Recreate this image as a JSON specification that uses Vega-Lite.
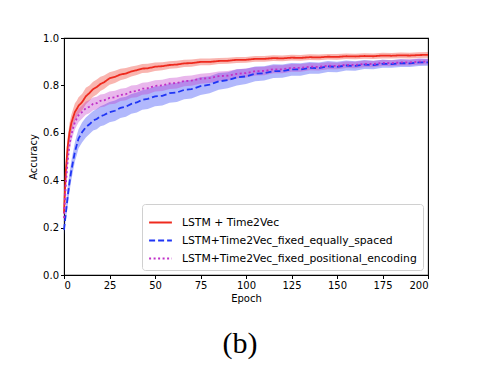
{
  "$schema": "https://vega.github.io/schema/vega-lite/v6.json",
  "width": 364,
  "height": 237,
  "autosize": {"type": "none"},
  "padding": {"left": 64, "top": 38, "right": 68, "bottom": 93},
  "background": "white",
  "title": {"text": "(b)", "orient": "bottom", "font": "Liberation Serif", "fontSize": 30, "fontWeight": "normal", "color": "black", "offset": 25, "dx": -6},
  "config": {
    "view": {"stroke": "black", "strokeWidth": 1.1},
    "axis": {"grid": false, "domainColor": "black", "tickColor": "black", "tickSize": 3.5, "labelColor": "black", "labelFont": "DejaVu Sans", "labelFontSize": 10, "titleFont": "DejaVu Sans", "titleFontSize": 10, "titleFontWeight": "normal", "titleColor": "black", "labelPadding": 2},
    "legend": {"labelFont": "DejaVu Sans", "labelFontSize": 10.8, "labelColor": "black", "labelLimit": 400}
  },
  "data": {"values": [
    {"epoch":0,"model":"LSTM + Time2Vec","acc":0.26,"lo":0.22,"hi":0.30},
    {"epoch":1,"model":"LSTM + Time2Vec","acc":0.44,"lo":0.40,"hi":0.48},
    {"epoch":2,"model":"LSTM + Time2Vec","acc":0.54,"lo":0.50,"hi":0.58},
    {"epoch":3,"model":"LSTM + Time2Vec","acc":0.60,"lo":0.56,"hi":0.64},
    {"epoch":4,"model":"LSTM + Time2Vec","acc":0.64,"lo":0.60,"hi":0.675},
    {"epoch":5,"model":"LSTM + Time2Vec","acc":0.665,"lo":0.63,"hi":0.70},
    {"epoch":6,"model":"LSTM + Time2Vec","acc":0.688,"lo":0.65,"hi":0.725},
    {"epoch":7,"model":"LSTM + Time2Vec","acc":0.70,"lo":0.665,"hi":0.735},
    {"epoch":8,"model":"LSTM + Time2Vec","acc":0.714,"lo":0.68,"hi":0.75},
    {"epoch":10,"model":"LSTM + Time2Vec","acc":0.73,"lo":0.695,"hi":0.765},
    {"epoch":12,"model":"LSTM + Time2Vec","acc":0.754,"lo":0.72,"hi":0.79},
    {"epoch":14,"model":"LSTM + Time2Vec","acc":0.768,"lo":0.735,"hi":0.80},
    {"epoch":16,"model":"LSTM + Time2Vec","acc":0.784,"lo":0.752,"hi":0.815},
    {"epoch":18,"model":"LSTM + Time2Vec","acc":0.793,"lo":0.762,"hi":0.825},
    {"epoch":20,"model":"LSTM + Time2Vec","acc":0.806,"lo":0.776,"hi":0.836},
    {"epoch":22,"model":"LSTM + Time2Vec","acc":0.813,"lo":0.785,"hi":0.842},
    {"epoch":25,"model":"LSTM + Time2Vec","acc":0.83,"lo":0.803,"hi":0.856},
    {"epoch":28,"model":"LSTM + Time2Vec","acc":0.836,"lo":0.81,"hi":0.862},
    {"epoch":31,"model":"LSTM + Time2Vec","acc":0.846,"lo":0.822,"hi":0.87},
    {"epoch":34,"model":"LSTM + Time2Vec","acc":0.85,"lo":0.828,"hi":0.873},
    {"epoch":37,"model":"LSTM + Time2Vec","acc":0.859,"lo":0.838,"hi":0.88},
    {"epoch":40,"model":"LSTM + Time2Vec","acc":0.864,"lo":0.844,"hi":0.884},
    {"epoch":43,"model":"LSTM + Time2Vec","acc":0.871,"lo":0.852,"hi":0.89},
    {"epoch":46,"model":"LSTM + Time2Vec","acc":0.872,"lo":0.853,"hi":0.891},
    {"epoch":50,"model":"LSTM + Time2Vec","acc":0.879,"lo":0.861,"hi":0.897},
    {"epoch":54,"model":"LSTM + Time2Vec","acc":0.881,"lo":0.864,"hi":0.898},
    {"epoch":58,"model":"LSTM + Time2Vec","acc":0.886,"lo":0.87,"hi":0.902},
    {"epoch":62,"model":"LSTM + Time2Vec","acc":0.888,"lo":0.872,"hi":0.904},
    {"epoch":66,"model":"LSTM + Time2Vec","acc":0.893,"lo":0.878,"hi":0.908},
    {"epoch":70,"model":"LSTM + Time2Vec","acc":0.894,"lo":0.879,"hi":0.909},
    {"epoch":75,"model":"LSTM + Time2Vec","acc":0.899,"lo":0.885,"hi":0.913},
    {"epoch":80,"model":"LSTM + Time2Vec","acc":0.899,"lo":0.885,"hi":0.913},
    {"epoch":85,"model":"LSTM + Time2Vec","acc":0.903,"lo":0.89,"hi":0.916},
    {"epoch":90,"model":"LSTM + Time2Vec","acc":0.904,"lo":0.891,"hi":0.917},
    {"epoch":95,"model":"LSTM + Time2Vec","acc":0.908,"lo":0.895,"hi":0.92},
    {"epoch":100,"model":"LSTM + Time2Vec","acc":0.908,"lo":0.896,"hi":0.92},
    {"epoch":105,"model":"LSTM + Time2Vec","acc":0.912,"lo":0.90,"hi":0.924},
    {"epoch":110,"model":"LSTM + Time2Vec","acc":0.912,"lo":0.90,"hi":0.924},
    {"epoch":115,"model":"LSTM + Time2Vec","acc":0.915,"lo":0.903,"hi":0.927},
    {"epoch":120,"model":"LSTM + Time2Vec","acc":0.914,"lo":0.902,"hi":0.926},
    {"epoch":125,"model":"LSTM + Time2Vec","acc":0.917,"lo":0.905,"hi":0.929},
    {"epoch":130,"model":"LSTM + Time2Vec","acc":0.916,"lo":0.904,"hi":0.928},
    {"epoch":135,"model":"LSTM + Time2Vec","acc":0.919,"lo":0.907,"hi":0.931},
    {"epoch":140,"model":"LSTM + Time2Vec","acc":0.918,"lo":0.906,"hi":0.93},
    {"epoch":145,"model":"LSTM + Time2Vec","acc":0.921,"lo":0.909,"hi":0.933},
    {"epoch":150,"model":"LSTM + Time2Vec","acc":0.92,"lo":0.908,"hi":0.932},
    {"epoch":155,"model":"LSTM + Time2Vec","acc":0.923,"lo":0.911,"hi":0.935},
    {"epoch":160,"model":"LSTM + Time2Vec","acc":0.922,"lo":0.91,"hi":0.934},
    {"epoch":165,"model":"LSTM + Time2Vec","acc":0.924,"lo":0.912,"hi":0.936},
    {"epoch":170,"model":"LSTM + Time2Vec","acc":0.923,"lo":0.911,"hi":0.935},
    {"epoch":175,"model":"LSTM + Time2Vec","acc":0.926,"lo":0.914,"hi":0.938},
    {"epoch":180,"model":"LSTM + Time2Vec","acc":0.925,"lo":0.913,"hi":0.937},
    {"epoch":185,"model":"LSTM + Time2Vec","acc":0.927,"lo":0.915,"hi":0.939},
    {"epoch":190,"model":"LSTM + Time2Vec","acc":0.926,"lo":0.914,"hi":0.938},
    {"epoch":195,"model":"LSTM + Time2Vec","acc":0.928,"lo":0.916,"hi":0.94},
    {"epoch":200,"model":"LSTM + Time2Vec","acc":0.929,"lo":0.917,"hi":0.941},

    {"epoch":0,"model":"LSTM+Time2Vec_fixed_equally_spaced","acc":0.19,"lo":0.17,"hi":0.21},
    {"epoch":1,"model":"LSTM+Time2Vec_fixed_equally_spaced","acc":0.26,"lo":0.23,"hi":0.29},
    {"epoch":2,"model":"LSTM+Time2Vec_fixed_equally_spaced","acc":0.33,"lo":0.29,"hi":0.37},
    {"epoch":3,"model":"LSTM+Time2Vec_fixed_equally_spaced","acc":0.39,"lo":0.35,"hi":0.43},
    {"epoch":4,"model":"LSTM+Time2Vec_fixed_equally_spaced","acc":0.44,"lo":0.40,"hi":0.48},
    {"epoch":5,"model":"LSTM+Time2Vec_fixed_equally_spaced","acc":0.48,"lo":0.44,"hi":0.52},
    {"epoch":6,"model":"LSTM+Time2Vec_fixed_equally_spaced","acc":0.52,"lo":0.48,"hi":0.56},
    {"epoch":7,"model":"LSTM+Time2Vec_fixed_equally_spaced","acc":0.548,"lo":0.505,"hi":0.59},
    {"epoch":8,"model":"LSTM+Time2Vec_fixed_equally_spaced","acc":0.576,"lo":0.535,"hi":0.615},
    {"epoch":10,"model":"LSTM+Time2Vec_fixed_equally_spaced","acc":0.603,"lo":0.56,"hi":0.645},
    {"epoch":12,"model":"LSTM+Time2Vec_fixed_equally_spaced","acc":0.624,"lo":0.58,"hi":0.665},
    {"epoch":14,"model":"LSTM+Time2Vec_fixed_equally_spaced","acc":0.636,"lo":0.595,"hi":0.678},
    {"epoch":16,"model":"LSTM+Time2Vec_fixed_equally_spaced","acc":0.652,"lo":0.61,"hi":0.692},
    {"epoch":18,"model":"LSTM+Time2Vec_fixed_equally_spaced","acc":0.658,"lo":0.615,"hi":0.70},
    {"epoch":20,"model":"LSTM+Time2Vec_fixed_equally_spaced","acc":0.67,"lo":0.628,"hi":0.712},
    {"epoch":22,"model":"LSTM+Time2Vec_fixed_equally_spaced","acc":0.675,"lo":0.632,"hi":0.718},
    {"epoch":25,"model":"LSTM+Time2Vec_fixed_equally_spaced","acc":0.687,"lo":0.645,"hi":0.73},
    {"epoch":28,"model":"LSTM+Time2Vec_fixed_equally_spaced","acc":0.693,"lo":0.65,"hi":0.736},
    {"epoch":31,"model":"LSTM+Time2Vec_fixed_equally_spaced","acc":0.705,"lo":0.662,"hi":0.748},
    {"epoch":34,"model":"LSTM+Time2Vec_fixed_equally_spaced","acc":0.71,"lo":0.668,"hi":0.752},
    {"epoch":37,"model":"LSTM+Time2Vec_fixed_equally_spaced","acc":0.722,"lo":0.68,"hi":0.764},
    {"epoch":40,"model":"LSTM+Time2Vec_fixed_equally_spaced","acc":0.728,"lo":0.686,"hi":0.77},
    {"epoch":43,"model":"LSTM+Time2Vec_fixed_equally_spaced","acc":0.739,"lo":0.697,"hi":0.78},
    {"epoch":46,"model":"LSTM+Time2Vec_fixed_equally_spaced","acc":0.743,"lo":0.70,"hi":0.785},
    {"epoch":50,"model":"LSTM+Time2Vec_fixed_equally_spaced","acc":0.754,"lo":0.712,"hi":0.795},
    {"epoch":54,"model":"LSTM+Time2Vec_fixed_equally_spaced","acc":0.756,"lo":0.715,"hi":0.797},
    {"epoch":58,"model":"LSTM+Time2Vec_fixed_equally_spaced","acc":0.767,"lo":0.727,"hi":0.807},
    {"epoch":62,"model":"LSTM+Time2Vec_fixed_equally_spaced","acc":0.77,"lo":0.73,"hi":0.81},
    {"epoch":66,"model":"LSTM+Time2Vec_fixed_equally_spaced","acc":0.781,"lo":0.742,"hi":0.82},
    {"epoch":70,"model":"LSTM+Time2Vec_fixed_equally_spaced","acc":0.784,"lo":0.745,"hi":0.823},
    {"epoch":75,"model":"LSTM+Time2Vec_fixed_equally_spaced","acc":0.797,"lo":0.76,"hi":0.834},
    {"epoch":80,"model":"LSTM+Time2Vec_fixed_equally_spaced","acc":0.803,"lo":0.767,"hi":0.839},
    {"epoch":85,"model":"LSTM+Time2Vec_fixed_equally_spaced","acc":0.817,"lo":0.782,"hi":0.852},
    {"epoch":90,"model":"LSTM+Time2Vec_fixed_equally_spaced","acc":0.822,"lo":0.788,"hi":0.856},
    {"epoch":95,"model":"LSTM+Time2Vec_fixed_equally_spaced","acc":0.834,"lo":0.80,"hi":0.868},
    {"epoch":100,"model":"LSTM+Time2Vec_fixed_equally_spaced","acc":0.838,"lo":0.806,"hi":0.87},
    {"epoch":105,"model":"LSTM+Time2Vec_fixed_equally_spaced","acc":0.849,"lo":0.818,"hi":0.88},
    {"epoch":110,"model":"LSTM+Time2Vec_fixed_equally_spaced","acc":0.851,"lo":0.821,"hi":0.881},
    {"epoch":115,"model":"LSTM+Time2Vec_fixed_equally_spaced","acc":0.86,"lo":0.831,"hi":0.889},
    {"epoch":120,"model":"LSTM+Time2Vec_fixed_equally_spaced","acc":0.86,"lo":0.832,"hi":0.888},
    {"epoch":125,"model":"LSTM+Time2Vec_fixed_equally_spaced","acc":0.868,"lo":0.841,"hi":0.895},
    {"epoch":130,"model":"LSTM+Time2Vec_fixed_equally_spaced","acc":0.867,"lo":0.841,"hi":0.893},
    {"epoch":135,"model":"LSTM+Time2Vec_fixed_equally_spaced","acc":0.874,"lo":0.849,"hi":0.899},
    {"epoch":140,"model":"LSTM+Time2Vec_fixed_equally_spaced","acc":0.873,"lo":0.849,"hi":0.897},
    {"epoch":145,"model":"LSTM+Time2Vec_fixed_equally_spaced","acc":0.88,"lo":0.857,"hi":0.903},
    {"epoch":150,"model":"LSTM+Time2Vec_fixed_equally_spaced","acc":0.878,"lo":0.856,"hi":0.90},
    {"epoch":155,"model":"LSTM+Time2Vec_fixed_equally_spaced","acc":0.884,"lo":0.863,"hi":0.905},
    {"epoch":160,"model":"LSTM+Time2Vec_fixed_equally_spaced","acc":0.882,"lo":0.862,"hi":0.902},
    {"epoch":165,"model":"LSTM+Time2Vec_fixed_equally_spaced","acc":0.888,"lo":0.869,"hi":0.907},
    {"epoch":170,"model":"LSTM+Time2Vec_fixed_equally_spaced","acc":0.886,"lo":0.868,"hi":0.904},
    {"epoch":175,"model":"LSTM+Time2Vec_fixed_equally_spaced","acc":0.891,"lo":0.874,"hi":0.908},
    {"epoch":180,"model":"LSTM+Time2Vec_fixed_equally_spaced","acc":0.89,"lo":0.874,"hi":0.906},
    {"epoch":185,"model":"LSTM+Time2Vec_fixed_equally_spaced","acc":0.894,"lo":0.878,"hi":0.91},
    {"epoch":190,"model":"LSTM+Time2Vec_fixed_equally_spaced","acc":0.893,"lo":0.878,"hi":0.908},
    {"epoch":195,"model":"LSTM+Time2Vec_fixed_equally_spaced","acc":0.897,"lo":0.882,"hi":0.912},
    {"epoch":200,"model":"LSTM+Time2Vec_fixed_equally_spaced","acc":0.897,"lo":0.883,"hi":0.911},

    {"epoch":0,"model":"LSTM+Time2Vec_fixed_positional_encoding","acc":0.24,"lo":0.21,"hi":0.27},
    {"epoch":1,"model":"LSTM+Time2Vec_fixed_positional_encoding","acc":0.38,"lo":0.35,"hi":0.41},
    {"epoch":2,"model":"LSTM+Time2Vec_fixed_positional_encoding","acc":0.48,"lo":0.45,"hi":0.51},
    {"epoch":3,"model":"LSTM+Time2Vec_fixed_positional_encoding","acc":0.55,"lo":0.52,"hi":0.58},
    {"epoch":4,"model":"LSTM+Time2Vec_fixed_positional_encoding","acc":0.59,"lo":0.56,"hi":0.62},
    {"epoch":5,"model":"LSTM+Time2Vec_fixed_positional_encoding","acc":0.62,"lo":0.59,"hi":0.65},
    {"epoch":6,"model":"LSTM+Time2Vec_fixed_positional_encoding","acc":0.645,"lo":0.615,"hi":0.675},
    {"epoch":7,"model":"LSTM+Time2Vec_fixed_positional_encoding","acc":0.66,"lo":0.63,"hi":0.69},
    {"epoch":8,"model":"LSTM+Time2Vec_fixed_positional_encoding","acc":0.674,"lo":0.645,"hi":0.703},
    {"epoch":10,"model":"LSTM+Time2Vec_fixed_positional_encoding","acc":0.688,"lo":0.66,"hi":0.716},
    {"epoch":12,"model":"LSTM+Time2Vec_fixed_positional_encoding","acc":0.704,"lo":0.676,"hi":0.732},
    {"epoch":14,"model":"LSTM+Time2Vec_fixed_positional_encoding","acc":0.71,"lo":0.682,"hi":0.738},
    {"epoch":16,"model":"LSTM+Time2Vec_fixed_positional_encoding","acc":0.722,"lo":0.695,"hi":0.749},
    {"epoch":18,"model":"LSTM+Time2Vec_fixed_positional_encoding","acc":0.725,"lo":0.698,"hi":0.752},
    {"epoch":20,"model":"LSTM+Time2Vec_fixed_positional_encoding","acc":0.735,"lo":0.708,"hi":0.762},
    {"epoch":22,"model":"LSTM+Time2Vec_fixed_positional_encoding","acc":0.737,"lo":0.71,"hi":0.764},
    {"epoch":25,"model":"LSTM+Time2Vec_fixed_positional_encoding","acc":0.747,"lo":0.72,"hi":0.774},
    {"epoch":28,"model":"LSTM+Time2Vec_fixed_positional_encoding","acc":0.75,"lo":0.723,"hi":0.777},
    {"epoch":31,"model":"LSTM+Time2Vec_fixed_positional_encoding","acc":0.76,"lo":0.734,"hi":0.786},
    {"epoch":34,"model":"LSTM+Time2Vec_fixed_positional_encoding","acc":0.763,"lo":0.737,"hi":0.789},
    {"epoch":37,"model":"LSTM+Time2Vec_fixed_positional_encoding","acc":0.774,"lo":0.748,"hi":0.80},
    {"epoch":40,"model":"LSTM+Time2Vec_fixed_positional_encoding","acc":0.776,"lo":0.75,"hi":0.802},
    {"epoch":43,"model":"LSTM+Time2Vec_fixed_positional_encoding","acc":0.786,"lo":0.761,"hi":0.811},
    {"epoch":46,"model":"LSTM+Time2Vec_fixed_positional_encoding","acc":0.788,"lo":0.763,"hi":0.813},
    {"epoch":50,"model":"LSTM+Time2Vec_fixed_positional_encoding","acc":0.798,"lo":0.774,"hi":0.822},
    {"epoch":54,"model":"LSTM+Time2Vec_fixed_positional_encoding","acc":0.80,"lo":0.776,"hi":0.824},
    {"epoch":58,"model":"LSTM+Time2Vec_fixed_positional_encoding","acc":0.808,"lo":0.785,"hi":0.831},
    {"epoch":62,"model":"LSTM+Time2Vec_fixed_positional_encoding","acc":0.81,"lo":0.787,"hi":0.833},
    {"epoch":66,"model":"LSTM+Time2Vec_fixed_positional_encoding","acc":0.818,"lo":0.796,"hi":0.84},
    {"epoch":70,"model":"LSTM+Time2Vec_fixed_positional_encoding","acc":0.82,"lo":0.798,"hi":0.842},
    {"epoch":75,"model":"LSTM+Time2Vec_fixed_positional_encoding","acc":0.828,"lo":0.807,"hi":0.849},
    {"epoch":80,"model":"LSTM+Time2Vec_fixed_positional_encoding","acc":0.831,"lo":0.81,"hi":0.852},
    {"epoch":85,"model":"LSTM+Time2Vec_fixed_positional_encoding","acc":0.839,"lo":0.819,"hi":0.859},
    {"epoch":90,"model":"LSTM+Time2Vec_fixed_positional_encoding","acc":0.841,"lo":0.821,"hi":0.861},
    {"epoch":95,"model":"LSTM+Time2Vec_fixed_positional_encoding","acc":0.849,"lo":0.83,"hi":0.868},
    {"epoch":100,"model":"LSTM+Time2Vec_fixed_positional_encoding","acc":0.852,"lo":0.833,"hi":0.871},
    {"epoch":105,"model":"LSTM+Time2Vec_fixed_positional_encoding","acc":0.86,"lo":0.842,"hi":0.878},
    {"epoch":110,"model":"LSTM+Time2Vec_fixed_positional_encoding","acc":0.861,"lo":0.843,"hi":0.879},
    {"epoch":115,"model":"LSTM+Time2Vec_fixed_positional_encoding","acc":0.868,"lo":0.851,"hi":0.885},
    {"epoch":120,"model":"LSTM+Time2Vec_fixed_positional_encoding","acc":0.868,"lo":0.851,"hi":0.885},
    {"epoch":125,"model":"LSTM+Time2Vec_fixed_positional_encoding","acc":0.874,"lo":0.858,"hi":0.89},
    {"epoch":130,"model":"LSTM+Time2Vec_fixed_positional_encoding","acc":0.874,"lo":0.858,"hi":0.89},
    {"epoch":135,"model":"LSTM+Time2Vec_fixed_positional_encoding","acc":0.879,"lo":0.864,"hi":0.894},
    {"epoch":140,"model":"LSTM+Time2Vec_fixed_positional_encoding","acc":0.878,"lo":0.863,"hi":0.893},
    {"epoch":145,"model":"LSTM+Time2Vec_fixed_positional_encoding","acc":0.883,"lo":0.868,"hi":0.898},
    {"epoch":150,"model":"LSTM+Time2Vec_fixed_positional_encoding","acc":0.882,"lo":0.868,"hi":0.896},
    {"epoch":155,"model":"LSTM+Time2Vec_fixed_positional_encoding","acc":0.887,"lo":0.873,"hi":0.901},
    {"epoch":160,"model":"LSTM+Time2Vec_fixed_positional_encoding","acc":0.886,"lo":0.872,"hi":0.90},
    {"epoch":165,"model":"LSTM+Time2Vec_fixed_positional_encoding","acc":0.891,"lo":0.877,"hi":0.905},
    {"epoch":170,"model":"LSTM+Time2Vec_fixed_positional_encoding","acc":0.89,"lo":0.877,"hi":0.903},
    {"epoch":175,"model":"LSTM+Time2Vec_fixed_positional_encoding","acc":0.895,"lo":0.882,"hi":0.908},
    {"epoch":180,"model":"LSTM+Time2Vec_fixed_positional_encoding","acc":0.894,"lo":0.881,"hi":0.907},
    {"epoch":185,"model":"LSTM+Time2Vec_fixed_positional_encoding","acc":0.897,"lo":0.884,"hi":0.91},
    {"epoch":190,"model":"LSTM+Time2Vec_fixed_positional_encoding","acc":0.897,"lo":0.884,"hi":0.91},
    {"epoch":195,"model":"LSTM+Time2Vec_fixed_positional_encoding","acc":0.90,"lo":0.887,"hi":0.913},
    {"epoch":200,"model":"LSTM+Time2Vec_fixed_positional_encoding","acc":0.90,"lo":0.888,"hi":0.912}
  ]},
  "encoding": {
    "x": {"field": "epoch", "type": "quantitative", "title": "Epoch",
          "scale": {"domain": [0, 200], "nice": false, "zero": false},
          "axis": {"values": [0, 25, 50, 75, 100, 125, 150, 175, 200], "titlePadding": 3}}
  },
  "layer": [
    {
      "mark": {"type": "area", "fillOpacity": 0.35},
      "encoding": {
        "y": {"field": "lo", "type": "quantitative"},
        "y2": {"field": "hi"},
        "fill": {"field": "model", "type": "nominal", "legend": null,
                  "scale": {"range": ["#ee2a1e", "#1f35f5", "#c030c8"]}}
      }
    },
    {
      "mark": {"type": "line", "strokeWidth": 1.8},
      "encoding": {
        "y": {"field": "acc", "type": "quantitative", "title": "Accuracy",
              "scale": {"domain": [0, 1], "nice": false},
              "axis": {"values": [0, 0.2, 0.4, 0.6, 0.8, 1.0], "format": ".1f", "titlePadding": 4}},
        "color": {"field": "model", "type": "nominal",
                  "scale": {"domain": ["LSTM + Time2Vec", "LSTM+Time2Vec_fixed_equally_spaced", "LSTM+Time2Vec_fixed_positional_encoding"], "range": ["#ee2a1e", "#1f35f5", "#c030c8"]},
                  "legend": {"title": null, "orient": "bottom-right", "offset": 5, "padding": 6, "fillColor": "white", "strokeColor": "#d0d0d0", "cornerRadius": 3, "symbolType": "stroke", "symbolSize": 520, "symbolStrokeWidth": 1.8, "rowPadding": -9, "labelOffset": 9}},
        "strokeDash": {"field": "model", "type": "nominal",
                       "scale": {"domain": ["LSTM + Time2Vec", "LSTM+Time2Vec_fixed_equally_spaced", "LSTM+Time2Vec_fixed_positional_encoding"], "range": [[1, 0], [6, 3], [2, 2.5]]},
                       "legend": {"title": null, "orient": "bottom-right", "offset": 5, "padding": 6, "fillColor": "white", "strokeColor": "#d0d0d0", "cornerRadius": 3, "symbolType": "stroke", "symbolSize": 520, "symbolStrokeWidth": 1.8, "rowPadding": -9, "labelOffset": 9}}
      }
    }
  ]
}
